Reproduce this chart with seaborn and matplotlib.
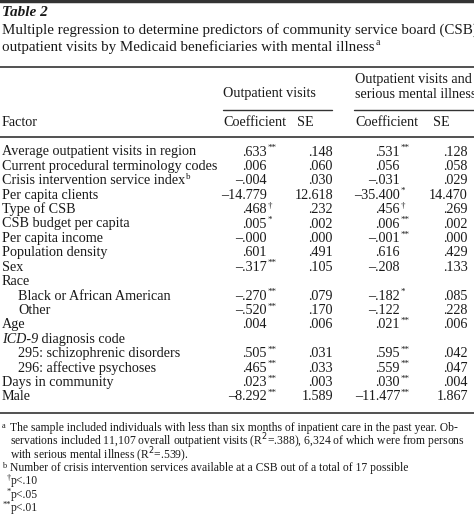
import matplotlib.pyplot as plt
import seaborn as sns

sns.set_theme(style="white")
plt.rcParams['font.family'] = ['Liberation Serif', 'DejaVu Serif']

# table contents
factors = ["Average outpatient visits in region", "Current procedural terminology codes",
           "Crisis intervention service index", "Per capita clients", "Type of CSB",
           "CSB budget per capita", "Per capita income", "Population density", "Sex", "Race",
           "Black or African American", "Other", "Age", "ICD-9 diagnosis code",
           "295: schizophrenic disorders", "296: affective psychoses", "Days in community", "Male"]
factor_sup = ["", "", "b", "", "", "", "", "", "", "", "", "", "", "", "", "", "", ""]
indented = [False] * 10 + [True, True, False, False, True, True, False, False]
coef1 = [".633", ".006", "\u2013.004", "\u201314.779", ".468", ".005", "\u2013.000", ".601", "\u2013.317", "",
         "\u2013.270", "\u2013.520", ".004", "", ".505", ".465", ".023", "\u20138.292"]
sig1 = ["**", "", "", "", "\u2020", "*", "", "", "**", "", "**", "**", "", "", "**", "**", "**", "**"]
se1 = [".148", ".060", ".030", "12.618", ".232", ".002", ".000", ".491", ".105", "",
       ".079", ".170", ".006", "", ".031", ".033", ".003", "1.589"]
coef2 = [".531", ".056", "\u2013.031", "\u201335.400", ".456", ".006", "\u2013.001", ".616", "\u2013.208", "",
         "\u2013.182", "\u2013.122", ".021", "", ".595", ".559", ".030", "\u201311.477"]
sig2 = ["**", "", "", "*", "\u2020", "**", "**", "", "", "", "*", "", "**", "", "**", "**", "**", "**"]
se2 = [".128", ".058", ".029", "14.470", ".269", ".002", ".000", ".429", ".133", "",
       ".085", ".228", ".006", "", ".042", ".047", ".004", "1.867"]

fig = plt.figure(figsize=(4.74, 5.16), dpi=100)
ax = fig.add_axes([0, 0, 1, 1])
ax.set_xlim(0, 474)
ax.set_ylim(516, 0)
ax.axis("off")

fs = 10.2
c = "#1a1a1a"
lc = "#333333"


def sup(artist, s, size=6.5):
    # small superscript attached to the right end of a text
    ax.annotate(s, xy=(1, 0.8), xycoords=artist, xytext=(0.5, 0), textcoords="offset points",
                fontsize=size, ha="left", va="center", color=c)


# rules
ax.plot([0, 474], [1, 1], color=lc, lw=2.5)
ax.plot([0, 474], [67, 67], color=lc, lw=1.2)
ax.plot([223, 332], [110, 110], color=lc, lw=1.0)
ax.plot([354, 474], [110, 110], color=lc, lw=1.0)
ax.plot([0, 474], [137, 137], color=lc, lw=1.2)
ax.plot([0, 474], [413, 413], color=lc, lw=1.2)

ax.text(2, 12, "Table 2", fontsize=11, fontweight="bold", style="italic", va="center", color=c)
ax.text(2, 30, "Multiple regression to determine predictors of community service board (CSB)",
        fontsize=10.8, va="center", color=c)
t = ax.text(2, 47, "outpatient visits by Medicaid beneficiaries with mental illness",
            fontsize=10.8, va="center", color=c)
sup(t, "a", 7)

ax.text(223, 94, "Outpatient visits", fontsize=fs, va="center", color=c)
ax.text(355, 79, "Outpatient visits and", fontsize=fs, va="center", color=c)
ax.text(355, 94, "serious mental illness", fontsize=fs, va="center", color=c)
ax.text(2, 123, "Factor", fontsize=fs, va="center", color=c)
ax.text(223, 123, "Coefficient", fontsize=fs, va="center", color=c)
ax.text(297, 123, "SE", fontsize=fs, va="center", color=c)
ax.text(355, 123, "Coefficient", fontsize=fs, va="center", color=c)
ax.text(433, 123, "SE", fontsize=fs, va="center", color=c)

y0, dy = 152, 14.4
for i, name in enumerate(factors):
    y = y0 + i * dy
    x = 18 if indented[i] else 2
    if name.startswith("ICD-9"):
        t = ax.text(x, y, "ICD-9", fontsize=fs, style="italic", va="center", color=c)
        ax.annotate(" diagnosis code", xy=(1, 0.5), xycoords=t, fontsize=fs,
                    ha="left", va="center", color=c)
    else:
        t = ax.text(x, y, name, fontsize=fs, va="center", color=c)
    if factor_sup[i]:
        sup(t, factor_sup[i])
    for val, sig, xr in [(coef1[i], sig1[i], 267), (se1[i], "", 333),
                         (coef2[i], sig2[i], 400), (se2[i], "", 468)]:
        t = ax.text(xr, y, val, fontsize=fs, ha="right", va="center", color=c)
        if sig:
            sup(t, sig)

# footnotes
ff = 8.4
ax.text(2, 426, "a", fontsize=6, va="center", color=c)
ax.text(10, 428, "The sample included individuals with less than six months of inpatient care in the past year. Ob-",
        fontsize=ff, va="center", color=c)
ax.text(10, 441, "servations included 11,107 overall outpatient visits (R$^2$=.388), 6,324 of which were from persons",
        fontsize=ff, va="center", color=c)
ax.text(10, 455, "with serious mental illness (R$^2$=.539).", fontsize=ff, va="center", color=c)
ax.text(2, 466, "b", fontsize=6, va="center", color=c)
ax.text(10, 468, "Number of crisis intervention services available at a CSB out of a total of 17 possible",
        fontsize=ff, va="center", color=c)
for y, s, p in [(481, "\u2020", "p<.10"), (495, "*", "p<.05"), (508, "**", "p<.01")]:
    ax.text(11, y - 3, s, fontsize=6, ha="right", va="center", color=c)
    ax.text(11, y, p, fontsize=ff, va="center", color=c)

fig.savefig("out.png", dpi=100)
